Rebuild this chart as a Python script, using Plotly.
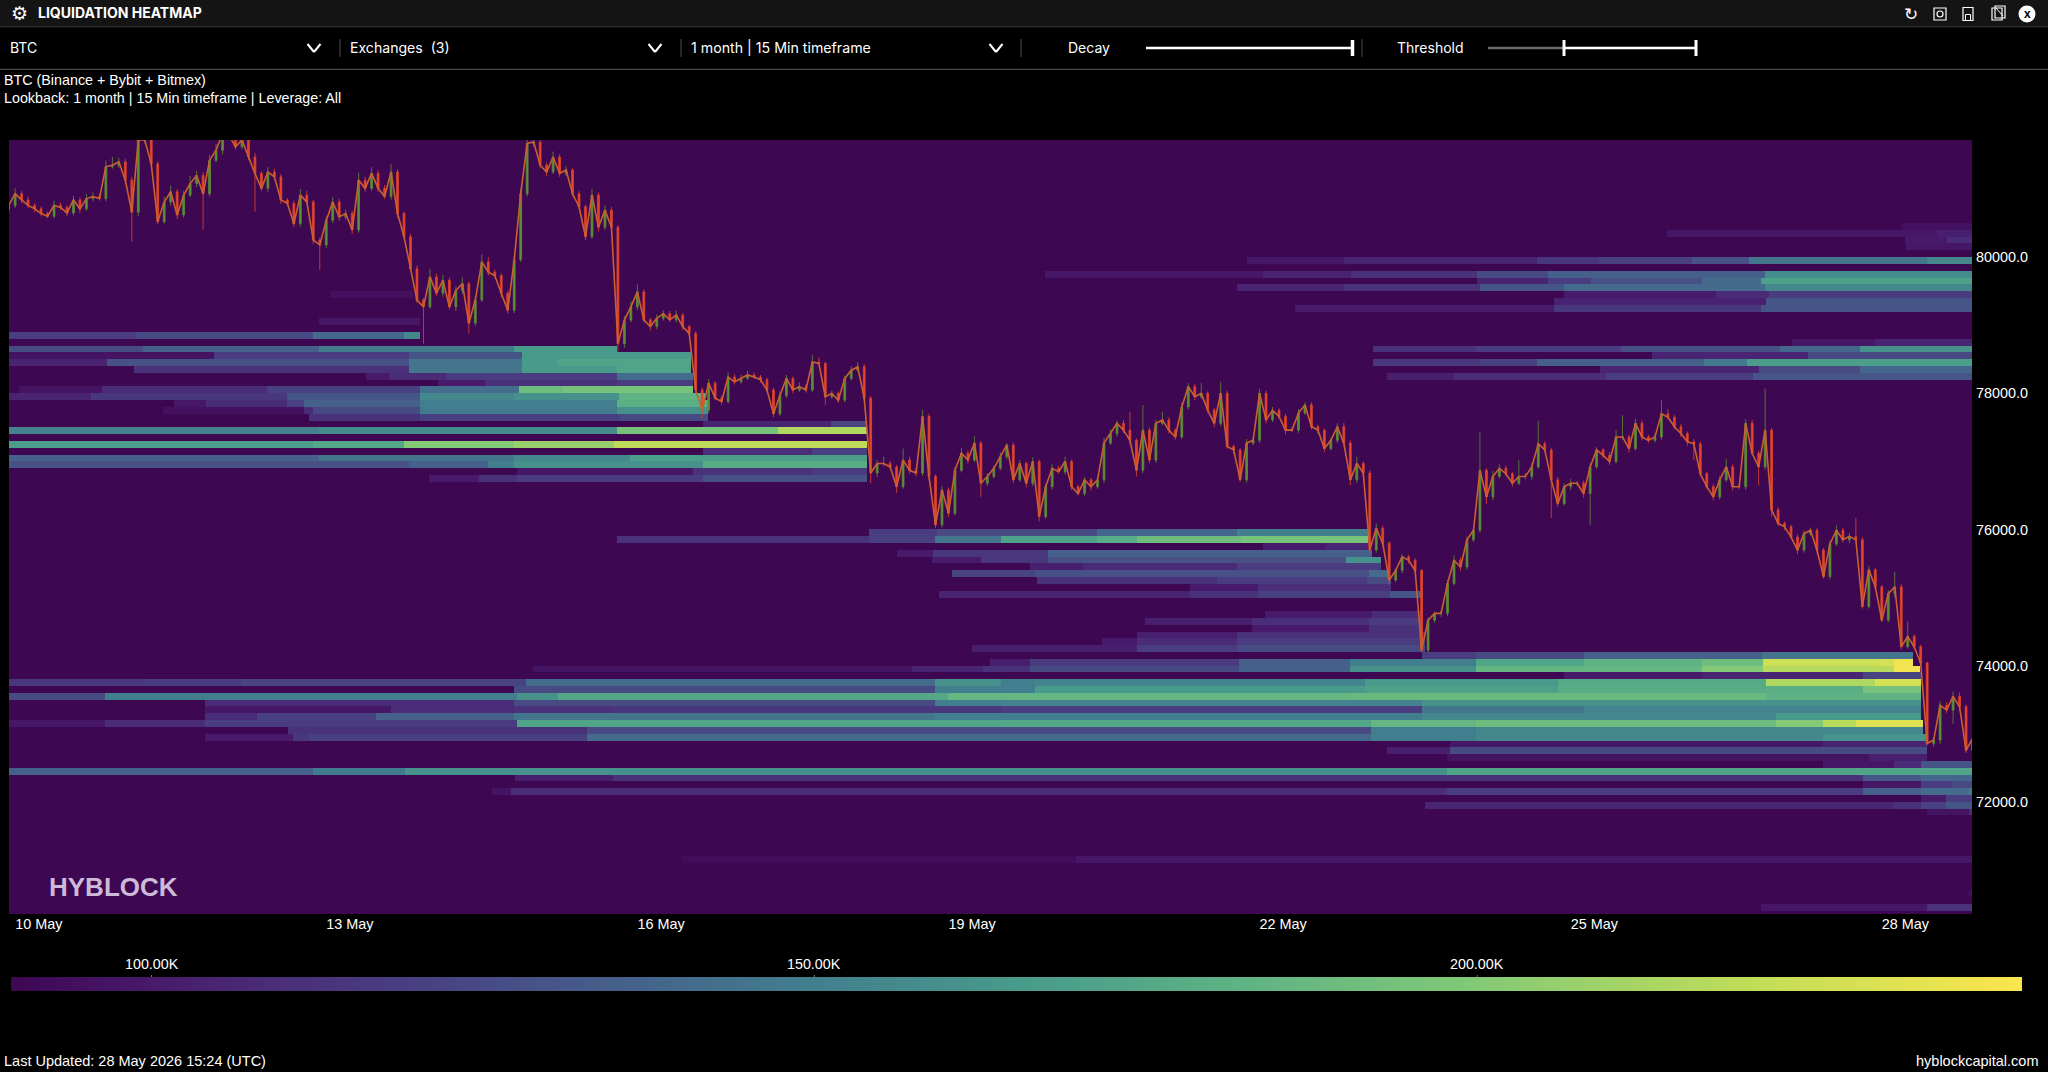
import datetime as dt
import numpy as np
import plotly.graph_objects as go

W, H = 2048, 1072

# ---- price candles, 90-minute spacing ----
candle_start = "2026-05-09 17:02"
candle_step_minutes = 90
closes = [
80760,80930,80840,80760,80710,80640,80600,80760,80730,80650,80840,80710,80860,80890,80860,81330,81350,81400,81130,80660,
81720,81720,81370,80520,80810,80960,80620,80910,81080,81200,80930,81420,81570,81815,81790,81620,81720,81470,81230,81010,
81250,81180,80840,80790,80490,80910,80810,80250,80180,80540,80810,80590,80640,80400,81130,81010,81230,81010,80890,81250,
80640,80300,79830,79370,79270,79710,79470,79660,79270,79510,79610,79030,79370,79930,79780,79730,79470,79220,79960,80930,
81670,81690,81350,81250,81470,81230,81280,80930,80740,80300,80910,80440,80690,80440,78730,79075,79270,79490,79080,78980,
79100,79170,79080,79150,78980,78880,78050,77755,78150,77930,77880,78240,78170,78220,78270,78240,78200,78050,77700,77970,
78220,78050,78100,78050,78460,78440,77950,78000,77900,78220,78340,78390,77930,76830,76970,76970,76920,76630,77020,76870,
76830,77660,76780,76070,76580,76240,76870,77120,77020,77270,76680,76780,76900,77070,77240,76730,76970,76680,77000,76190,
76630,76900,76850,77000,76630,76530,76730,76630,76730,77270,77410,77560,77460,77310,76870,77460,77020,77560,77610,77460,
77360,77800,78100,77950,78000,77755,77560,78000,77220,77170,76730,77270,77310,78000,77610,77750,77660,77460,77460,77710,
77830,77510,77460,77190,77310,77510,77270,76730,76970,76830,75700,76020,75800,75260,75400,75600,75550,75400,74230,74670,
74770,74770,75210,75550,75450,75850,75990,76870,76480,76780,76900,76820,76680,76780,76780,76920,77260,77170,76730,76380,
76630,76680,76680,76530,76920,77170,77090,77000,77360,77360,77190,77560,77360,77310,77360,77700,77650,77510,77410,77290,
77260,76820,76630,76480,76730,76920,76630,76630,77560,77120,76920,77460,76290,76090,76040,75890,75700,75940,75990,75700,
75310,75790,75990,75850,75900,75850,74870,75410,75160,74670,75060,75160,74280,74430,74280,74040,72860,72910,73420,73350,
73550,73400,72760,72930,
]
upper_wicks = [
60,80,40,50,30,40,30,70,40,30,60,40,70,60,40,90,120,60,40,50,
100,100,40,40,80,90,40,60,110,70,50,80,90,100,80,60,70,40,60,30,
70,50,40,30,40,90,60,30,40,60,70,50,60,40,110,50,90,40,50,120,
40,30,40,50,30,120,50,80,40,60,90,30,60,110,70,40,30,40,60,80,
90,100,50,40,80,40,60,30,40,30,90,40,70,50,30,60,80,110,40,30,
60,50,40,70,30,20,30,40,60,30,40,70,40,50,60,40,30,30,30,60,
50,30,60,40,100,70,20,40,30,40,60,70,40,30,50,100,40,30,170,50,
40,100,40,30,60,40,50,80,40,100,30,50,40,60,30,40,50,30,60,30,
40,60,40,70,30,30,40,30,50,80,60,40,50,270,30,370,40,50,120,40,
30,60,50,40,150,30,30,170,40,30,20,60,50,70,40,50,30,40,50,60,
40,40,30,20,40,50,60,40,100,30,40,70,40,30,30,40,30,30,20,40,
30,40,50,70,40,50,70,560,30,80,60,40,30,240,50,60,340,40,30,40,
50,60,30,40,60,40,30,50,100,320,30,70,40,30,50,200,70,30,40,30,
40,30,30,40,60,120,40,30,60,50,40,610,30,40,30,30,40,50,40,30,
30,50,70,40,50,270,40,60,30,30,50,220,40,220,30,30,20,40,60,50,
70,60,30,40,
]
lower_wicks = [
60,40,50,40,50,40,30,30,40,50,40,60,30,40,30,40,30,40,60,430,
60,50,60,40,30,50,60,40,30,50,530,40,30,60,50,40,40,50,560,40,
50,40,60,40,50,40,30,60,370,50,40,60,40,60,40,50,40,50,40,50,
60,40,30,40,540,30,40,50,40,60,50,150,40,30,50,40,60,50,40,30,
40,50,40,60,30,50,40,40,30,50,30,60,40,50,120,60,30,50,40,60,
40,30,30,40,50,40,50,120,40,30,50,30,40,30,20,30,40,30,50,30,
40,50,30,40,30,40,120,30,40,30,30,20,40,150,60,40,30,90,30,50,
50,40,60,50,40,60,30,30,50,30,200,40,30,30,40,50,30,60,40,70,
30,40,30,40,50,30,40,60,30,40,30,50,40,60,90,40,50,40,30,50,
40,30,40,50,30,40,60,40,30,60,30,40,30,40,50,30,40,60,30,40,
30,40,60,50,30,40,50,80,40,60,50,40,50,70,30,40,50,30,30,30,
40,50,40,30,50,40,30,40,100,50,30,40,50,30,40,50,30,40,560,40,
30,50,40,60,460,30,40,50,30,40,60,30,50,40,30,40,30,40,50,60,
240,40,30,50,40,30,60,40,50,30,270,40,100,40,50,30,60,40,30,50,
30,40,30,40,50,40,30,30,40,30,30,60,40,30,40,50,30,50,60,40,
200,60,40,30,
]

# ---- heatmap bands: (row low price, step days of May with final end, step values in thousands) ----
bands_top = [
(80400, [27.96, 28.64], [95]),
(80300, [25.7, 28.3, 28.64], [98, 102]),
(80200, [27.99, 28.4, 28.64], [100, 108]),
(80100, [28.0, 28.64], [98]),
(79900, [21.65, 22.58, 24.44, 25.04, 25.94, 26.49, 28.2, 28.64], [98, 105, 115, 120, 128, 145, 155]),
(79700, [19.7, 21.8, 22.65, 23.86, 24.55, 26.63, 28.64], [98, 104, 112, 125, 135, 158]),
(79600, [23.86, 24.55, 24.96, 26.03, 26.6, 28.64], [105, 118, 128, 140, 170]),
(79500, [21.55, 22.58, 23.9, 24.7, 26.63, 28.64], [105, 112, 130, 140, 155]),
(79400, [24.7, 26.17, 26.68, 28.64], [100, 108, 118]),
(79300, [24.6, 26.65, 28.64], [104, 130]),
(79200, [22.1, 24.6, 26.6, 28.64], [100, 115, 130]),
(78700, [26.9, 27.7, 28.64], [98, 105]),
(78600, [22.86, 23.85, 25.25, 26.78, 27.55, 28.64], [112, 118, 128, 138, 160]),
(78500, [25.55, 27.05, 28.64], [105, 125]),
(78400, [22.86, 23.9, 24.44, 26.05, 26.47, 28.64], [115, 120, 135, 148, 168]),
(78300, [25.05, 26.58, 27.55, 28.64], [105, 125, 138]),
(78200, [23.0, 23.65, 25.1, 26.52, 28.64], [102, 110, 118, 130]),
]
bands_left = [
(79400, [12.8, 13.6], [95]),
(79000, [12.7, 13.67], [98]),
(78800, [9.71, 10.94, 12.63, 13.52, 13.67], [118, 125, 140, 155]),
(78600, [9.71, 11.0, 12.7, 14.57, 15.57], [125, 135, 148, 165]),
(78500, [9.71, 11.69, 13.56, 14.66, 16.28], [96, 118, 130, 165]),
(78400, [9.71, 10.66, 13.56, 14.66, 15.0, 16.28], [105, 128, 145, 165, 172]),
(78300, [10.92, 13.56, 14.66, 15.57, 16.28], [112, 145, 165, 172]),
(78200, [13.15, 13.37, 13.93, 15.57, 16.3], [100, 108, 118, 140]),
(78100, [13.84, 14.3, 15.57, 16.3], [100, 112, 118]),
(78000, [9.8, 10.6, 12.2, 13.67, 14.62, 15.05, 16.3], [96, 108, 120, 142, 190, 195]),
(77900, [9.71, 10.5, 12.38, 13.67, 14.57, 15.59, 16.42], [105, 115, 130, 155, 160, 182]),
(77800, [11.3, 11.6, 12.38, 12.55, 13.67, 15.57, 16.45], [98, 108, 120, 135, 150, 180]),
(77700, [11.2, 12.55, 12.63, 13.67, 15.57, 16.45], [95, 108, 125, 148, 160]),
(77600, [12.6, 13.67, 15.6, 16.45], [112, 120, 125]),
(77500, [16.4, 17.63, 17.98], [105, 122]),
(77400, [9.71, 12.7, 15.57, 17.12, 17.98], [152, 158, 195, 215]),
(77200, [9.71, 12.63, 13.52, 14.57, 15.54, 17.98], [168, 175, 200, 207, 220]),
(77100, [16.4, 17.45, 17.98], [110, 120]),
(77000, [9.71, 12.7, 14.57, 15.7, 17.98], [135, 145, 155, 168]),
(76900, [9.71, 13.56, 14.32, 14.57, 16.4, 17.98], [128, 135, 150, 160, 178]),
(76800, [14.6, 16.3, 17.45, 17.98], [98, 112, 118]),
(76700, [13.76, 14.24, 14.6, 16.4, 17.98], [100, 112, 118, 128]),
]
bands_mid = [
(75900, [18.0, 18.66, 20.2, 21.55, 22.81], [118, 125, 138, 150]),
(75800, [15.57, 18.0, 18.63, 19.27, 20.2, 20.58, 21.58, 22.81], [112, 120, 145, 170, 178, 190, 195]),
(75700, [21.8, 22.4, 22.81], [100, 106]),
(75600, [18.27, 18.61, 19.73, 22.85], [100, 115, 135]),
(75500, [18.6, 19.08, 19.73, 22.6, 22.94], [100, 115, 128, 160]),
(75400, [19.55, 20.06, 21.55, 22.94], [102, 108, 118]),
(75300, [18.8, 19.6, 22.82, 23.02], [122, 128, 140]),
(75200, [19.62, 21.35, 22.8, 23.03], [112, 118, 125]),
(75100, [21.09, 21.75, 23.03], [100, 110]),
(75000, [18.68, 21.09, 21.75, 23.02, 23.33], [105, 112, 120, 130]),
(74700, [21.82, 22.85, 23.33], [100, 108]),
(74600, [20.67, 21.7, 22.82, 23.33], [102, 110, 118]),
(74500, [21.7, 22.82, 23.33], [100, 112]),
(74400, [20.58, 21.55, 23.36], [102, 112]),
(74300, [20.25, 20.58, 21.55, 23.36], [100, 108, 118]),
(74200, [18.99, 20.58, 21.55, 23.36], [102, 118, 125]),
]
bands_low = [
(74100, [23.33, 23.85, 24.9, 26.61, 28.06], [118, 125, 135, 145]),
(74000, [19.17, 19.55, 21.57, 22.63, 23.85, 24.9, 26.03, 26.62, 27.75, 27.88, 28.06], [102, 118, 135, 150, 172, 182, 190, 225, 228, 238]),
(73900, [14.76, 18.42, 19.1, 19.55, 21.57, 22.63, 23.85, 26.03, 26.62, 27.88, 28.14], [96, 105, 112, 125, 135, 160, 185, 200, 218, 238]),
(73800, [24.7, 26.03, 27.58, 28.15], [100, 105, 122]),
(73700, [9.71, 11.0, 11.96, 14.7, 18.63, 19.27, 19.6, 22.78, 24.65, 26.65, 27.7, 28.15], [115, 118, 122, 140, 160, 150, 153, 165, 176, 215, 228]),
(73600, [14.57, 18.63, 19.6, 22.78, 24.65, 26.65, 27.58, 28.15], [125, 150, 165, 170, 178, 180, 195]),
(73500, [9.71, 10.64, 14.6, 15.0, 18.76, 22.63, 26.65, 28.15], [125, 150, 160, 175, 185, 188, 182]),
(73400, [11.59, 14.57, 18.63, 19.27, 23.33, 28.15], [108, 125, 150, 152, 160]),
(73300, [11.59, 13.4, 14.57, 15.53, 19.27, 23.33, 24.9, 28.15], [98, 108, 112, 115, 118, 145, 152]),
(73200, [11.59, 12.1, 13.25, 14.57, 18.63, 23.33, 26.75, 28.15], [108, 120, 135, 145, 150, 155, 165]),
(73100, [9.71, 10.64, 11.59, 14.6, 19.27, 22.84, 23.85, 26.75, 27.2, 27.52, 28.17], [98, 108, 118, 172, 175, 185, 190, 200, 218, 230]),
(73000, [12.4, 15.28, 22.84, 23.85, 28.17], [112, 125, 150, 155]),
(72900, [11.59, 12.45, 12.6, 15.28, 22.84, 23.85, 27.2, 28.2], [100, 115, 120, 140, 150, 155, 162]),
(72800, [23.6, 27.2, 28.2], [98, 105]),
(72700, [23.0, 23.6, 28.2], [102, 125]),
(72600, [23.57, 27.65, 28.2], [96, 103]),
(72500, [27.2, 27.88, 28.15, 28.64], [98, 108, 130]),
(72400, [9.71, 12.64, 13.53, 23.57, 28.64], [135, 148, 160, 172]),
(72300, [14.58, 15.53, 27.58, 28.15, 28.64], [102, 112, 132, 138]),
(72200, [27.58, 28.15, 28.45, 28.64], [98, 118, 125]),
(72100, [14.36, 14.55, 23.57, 27.58, 28.15, 28.6, 28.64], [96, 110, 118, 135, 140, 148]),
(72000, [28.15, 28.38, 28.64], [100, 118]),
(71900, [23.36, 27.88, 28.15, 28.38, 28.64], [106, 112, 120, 130]),
(71800, [28.2, 28.6, 28.64], [96, 108]),
(71100, [16.2, 20.0, 28.64], [93, 98]),
(70600, [28.6, 28.64], [95]),
(70400, [26.6, 28.2, 28.64], [98, 112]),
]

price_rows = list(range(70300, 81800, 100))
row_step = 100
x_ticks = [10, 13, 16, 19, 22, 25, 28]
y_ticks = [72000, 74000, 76000, 78000, 80000]
scale_ticks = [100000, 150000, 200000]
scale_labels = ["100.00K", "150.00K", "200.00K"]
z_min, z_max = 89400, 241100
day_first, day_last = 9.713, 28.642


def day_to_time(d):
    return dt.datetime(2026, 5, 1) + dt.timedelta(days=d - 1)


col_days = np.arange(day_first, day_last, 0.25 / 24)
z = np.zeros((len(price_rows), len(col_days)))
for low, days, vals in bands_top + bands_left + bands_mid + bands_low:
    r = price_rows.index(low)
    for k, v in enumerate(vals):
        mask = (col_days >= days[k]) & (col_days < days[k + 1])
        z[r, mask] = v * 1000

colorscale = [
    [0.0, "#3e0751"], [0.07, "#481a6c"], [0.13, "#4a2d78"], [0.20, "#493f81"],
    [0.32, "#44668c"], [0.40, "#427f8e"], [0.50, "#489a8b"], [0.60, "#5bb085"],
    [0.72, "#7fc878"], [0.865, "#c0dd58"], [1.0, "#fbe54e"],
]

BAR_X0, BAR_LEN = 11, 2011

fig = go.Figure()
fig.add_trace(go.Heatmap(
    x=[day_to_time(d + 0.125 / 24) for d in col_days],
    y=[p + row_step / 2 for p in price_rows],
    z=z, zmin=z_min, zmax=z_max, colorscale=colorscale, hoverinfo="skip",
    colorbar=dict(
        orientation="h", lenmode="pixels", len=BAR_LEN, thicknessmode="pixels", thickness=14,
        x=BAR_X0 / W, xanchor="left", y=(H - 977) / H, yanchor="top", xpad=0, ypad=0,
        outlinewidth=0, ticks="", showticklabels=False,
    ),
))

t0 = dt.datetime.fromisoformat(candle_start)
times = [t0 + dt.timedelta(minutes=candle_step_minutes * i) for i in range(len(closes))]
opens = [closes[0] - 60] + closes[:-1]
highs = [max(o, c) + u for o, c, u in zip(opens, closes, upper_wicks)]
lows = [min(o, c) - l for o, c, l in zip(opens, closes, lower_wicks)]
fig.add_trace(go.Scatter(
    x=times, y=closes, mode="lines", line=dict(color="#c9602f", width=1.6),
    showlegend=False, hoverinfo="skip",
))
fig.add_trace(go.Candlestick(
    x=times, open=opens, high=highs, low=lows, close=closes, whiskerwidth=0,
    increasing=dict(line=dict(color="#5c8f35", width=0.8), fillcolor="#5c8f35"),
    decreasing=dict(line=dict(color="#e2452c", width=0.8), fillcolor="#e2452c"),
    showlegend=False, hoverinfo="skip",
))

SANS = "Liberation Sans"
UI = "Inter"


def fx(x):
    return x / W


def fy(y):
    return 1 - y / H


annotations = []


def text(x, y, s, size=14, color="#ffffff", family=SANS, anchor="left", bold=False):
    annotations.append(dict(
        xref="paper", yref="paper", x=fx(x), y=fy(y), text=f"<b>{s}</b>" if bold else s,
        showarrow=False, xanchor=anchor, yanchor="middle", align=anchor,
        font=dict(family=family, size=size, color=color),
    ))


shapes = []


def rect(x0, y0, x1, y1, fill=None, line=None, lw=1.2):
    shapes.append(dict(
        type="rect", xref="paper", yref="paper", x0=fx(x0), x1=fx(x1), y0=fy(y0), y1=fy(y1),
        fillcolor=fill or "rgba(0,0,0,0)", line=dict(color=line or "rgba(0,0,0,0)", width=lw if line else 0),
    ))


def seg(x0, y0, x1, y1, color="#ffffff", lw=1.5):
    shapes.append(dict(
        type="line", xref="paper", yref="paper", x0=fx(x0), x1=fx(x1), y0=fy(y0), y1=fy(y1),
        line=dict(color=color, width=lw),
    ))


def circle(cx, cy, r, fill=None, line=None, lw=1.4):
    shapes.append(dict(
        type="circle", xref="paper", yref="paper", x0=fx(cx - r), x1=fx(cx + r), y0=fy(cy + r), y1=fy(cy - r),
        fillcolor=fill or "rgba(0,0,0,0)", line=dict(color=line or "rgba(0,0,0,0)", width=lw if line else 0),
    ))


# header bars
rect(0, 0, W, 26, fill="#141414")
seg(0, 26.7, W, 26.7, color="#3a3a3a", lw=1)
seg(0, 69.3, W, 69.3, color="#5a5a5a", lw=1)
text(19, 13, "⚙", size=19, family="DejaVu Sans", anchor="center")
text(35.5, 13, "LIQUIDATION HEATMAP", size=14, family=UI, bold=True)
text(7.5, 47.5, "BTC", size=14, family=UI)
text(348, 47.5, "Exchanges&nbsp;&nbsp;(3)", size=14.1, family=UI)
text(689, 47.5, "1 month | 15 Min timeframe", size=14.2, family=UI)
text(1066, 47.5, "Decay", size=14, family=UI)
text(1395, 47.5, "Threshold", size=14, family=UI)
for cx in (314, 655, 996):
    seg(cx - 6.5, 44, cx, 52, lw=2)
    seg(cx, 52, cx + 6.5, 44, lw=2)
for sx in (340, 681, 1021, 1362):
    seg(sx, 39, sx, 57, color="#4a4a4a", lw=1)
seg(1146, 48, 1354, 48, lw=2.5)
seg(1352.5, 40, 1352.5, 56, lw=3.5)
seg(1488, 48, 1564, 48, color="#6a6a6a", lw=2.5)
seg(1564, 48, 1696, 48, lw=2.5)
seg(1564, 40, 1564, 56, lw=3)
seg(1696, 40, 1696, 56, lw=3)

# window icons
text(1911, 13.5, "↻", size=17, family="DejaVu Sans", anchor="center")
rect(1934, 8, 1946, 20, line="#ffffff")
circle(1940, 14, 3, line="#ffffff", lw=1.2)
rect(1963, 7.5, 1973, 20.5, line="#ffffff")
rect(1965.5, 14.5, 1970.5, 20.5, line="#ffffff", lw=1)
rect(1992, 8, 2002, 20, line="#ffffff")
rect(1995, 6, 2005, 18, line="#ffffff")
seg(1996, 8, 2003, 16, lw=1)
circle(2027, 14, 8.5, fill="#ffffff")
text(2027, 14, "x", size=12, color="#000000", anchor="center", bold=True)

text(1.5, 80, "BTC (Binance + Bybit + Bitmex)", size=14.3)
text(1.5, 98, "Lookback: 1 month | 15 Min timeframe | Leverage: All", size=14.3)
text(1.5, 1060.5, "Last Updated: 28 May 2026 15:24 (UTC)", size=14.5)
text(2041, 1060.5, "hyblockcapital.com", size=14.5, anchor="right")
text(47, 887, "HYBLOCK", size=26, color="#cdb9d8", bold=True)

# colour scale ticks sit above the bar in the reference
for value, label in zip(scale_ticks, scale_labels):
    bx = BAR_X0 + (value - z_min) / (z_max - z_min) * BAR_LEN
    seg(bx, 975, bx, 977, color="#777777", lw=1)
    text(bx, 964, label, size=14.3, anchor="center")

fig.update_layout(
    width=W, height=H, margin=dict(l=0, r=0, t=0, b=0, pad=0),
    paper_bgcolor="#000000", plot_bgcolor="#3e0751", showlegend=False,
    boxgap=0.6, annotations=annotations, shapes=shapes,
    xaxis=dict(
        domain=[9 / W, 1972 / W], type="date",
        range=[day_to_time(day_first), day_to_time(day_last)],
        rangeslider=dict(visible=False), showgrid=False, zeroline=False, showline=False,
        tickvals=[day_to_time(d) for d in x_ticks], tickformat="%-d May", ticks="",
        tickfont=dict(family=SANS, size=14.4, color="#ffffff"),
    ),
    yaxis=dict(
        domain=[(H - 914) / H, (H - 140) / H], side="right",
        range=[70356, 81720], showgrid=False, zeroline=False, showline=False,
        tickvals=y_ticks, tickformat=".1f", ticks="", ticklabelstandoff=3,
        tickfont=dict(family=SANS, size=14.4, color="#ffffff"),
    ),
)

fig.write_html(
    "out.html",
    config={"displayModeBar": False},
    post_script=(
        "document.body.style.margin='0';document.body.style.background='#000';"
        "document.documentElement.style.overflow='hidden';"
    ),
)
